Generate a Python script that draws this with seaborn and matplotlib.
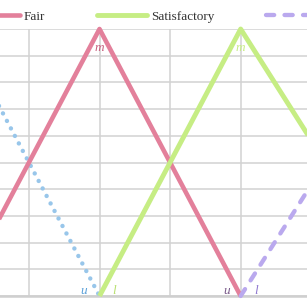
import matplotlib
matplotlib.use("Agg")
import matplotlib.pyplot as plt
import seaborn as sns
import pandas as pd
import numpy as np
from matplotlib.lines import Line2D

sns.set_style("white")
plt.rcParams['font.family'] = ['Liberation Serif', 'DejaVu Serif']

# Triangular fuzzy numbers (l, m, u) on a grid-unit x scale
series_names = ["Poor", "Fair", "Satisfactory", "Good"]
poor_x = [-3.0, -1.0, 1.0]
fair_x = [-1.0, 1.0, 3.0]
sat_x = [1.0, 3.0, 5.4]
good_x = [3.0, 5.4, 7.8]
memb_y = [0.0, 1.0, 0.0]
legend_labels = ["Fair", "Satisfactory", ""]

colors = {"Poor": "#98c6ea", "Fair": "#e3809b", "Satisfactory": "#c6ed84", "Good": "#baa9ee"}
styles = {"Poor": (0, (0.01, 1.9)), "Fair": "-", "Satisfactory": "-", "Good": (0, (1.9, 2.4))}
widths = {"Poor": 3.2, "Fair": 3.3, "Satisfactory": 3.5, "Good": 3.1}

df = pd.concat([
    pd.DataFrame({"x": xs, "y": memb_y, "series": name})
    for name, xs in zip(series_names, [poor_x, fair_x, sat_x, good_x])
])

fig = plt.figure(figsize=(3.07, 3.07), dpi=100)
ax = fig.add_axes([0, 11/307, 1, 267/307])

for name in series_names:
    sub = df[df.series == name]
    sns.lineplot(data=sub, x="x", y="y", ax=ax, color=colors[name], lw=widths[name],
                 linestyle=styles[name], solid_capstyle="butt", dash_capstyle="round",
                 sort=False, legend=False, clip_on=False, zorder=3)

ax.set_xlim(-0.41, 3.94)
ax.set_ylim(0, 1)
ax.set_xticks([0, 1, 2, 3])
ax.set_yticks(np.arange(0, 1.01, 0.1))
ax.grid(True, color="#d2d2d2", lw=1.1)
ax.tick_params(left=False, bottom=False, labelleft=False, labelbottom=False)
for s in ["top", "left", "right"]:
    ax.spines[s].set_visible(False)
ax.spines["bottom"].set_color("#cfcfcf")
ax.spines["bottom"].set_linewidth(1.8)
ax.set_xlabel("")
ax.set_ylabel("")

# point labels
lab_kw = dict(fontsize=9.5, fontstyle="italic", ha="center", va="center", zorder=4)
ax.text(1, 0.93, "m", color="#c8607f", **lab_kw)
ax.text(3, 0.93, "m", color="#c6ed84", **lab_kw)
ax.text(0.78, 0.02, "u", color="#5aa0d8", **lab_kw)
ax.text(1.2, 0.02, "l", color="#b8e070", **lab_kw)
ax.text(2.8, 0.02, "u", color="#7a5a8a", **lab_kw)
ax.text(3.22, 0.02, "l", color="#8f78d0", **lab_kw)

handles = [Line2D([0], [0], color=colors[n], lw=widths[n], linestyle=styles[n],
                  dash_capstyle="round") for n in ["Fair", "Satisfactory", "Good"]]
fig.legend(handles, legend_labels, ncol=3, loc="center left",
           bbox_to_anchor=(-30/307, 1 - 17/307), frameon=False, fontsize=9.5,
           handlelength=3.8, handletextpad=0.3, columnspacing=3.9,
           borderaxespad=0, borderpad=0, labelcolor="#333333")

fig.savefig("out.png", dpi=100)
